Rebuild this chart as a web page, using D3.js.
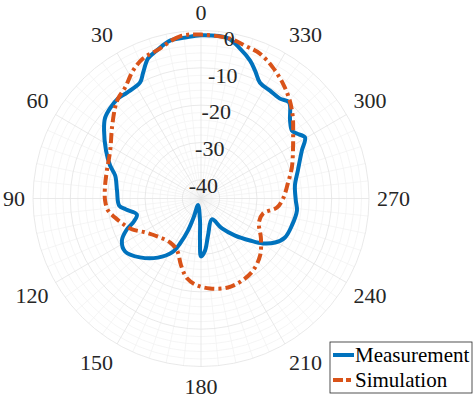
<!DOCTYPE html>
<html>
<head>
<meta charset="utf-8">
<script src="https://cdn.jsdelivr.net/npm/d3@7"></script>
<style>
  body { margin: 0; background: #fff; }
  svg { display: block; font-family: "Liberation Serif", "Times New Roman", serif; }
</style>
</head>
<body>
<svg id="chart" width="474" height="399"></svg>
<script>
// angles in degrees, counter-clockwise from the top; values in dB
const measAngle = [0, 5.7, 11.1, 16.6, 20.7, 24.7, 27.7, 34.9, 39.7, 45.3, 50.2, 55.0, 63.2, 70.1, 75.0, 84.6,
  94.9, 98.3, 104.0, 108.9, 113.1, 118.0, 124.9, 134.0, 143.9, 151.8, 155.0, 157.9, 158.7, 155.2,
  177.4, 178.6, 180, 184.4, 190.7, 207.6, 215, 222.6, 229.4, 234.0, 239.3, 245.1, 253.5, 262.9,
  268.8, 277.9, 286.1, 295.4, 300.4, 304.1, 306.8, 311.2, 317.5, 321.7, 327.4, 333.0, 337.1,
  340.4, 345.4, 350.4];
const measDb = [-1.3, -1.7, -1.9, -3.6, -4.9, -7.9, -9.9, -10.4, -10.2, -10.7, -11.5, -13.3, -16.5, -19.1, -21.2, -22.4,
  -23.0, -24.7, -27.3, -26.0, -23.2, -21.0, -20.2, -22.3, -25.4, -28.6, -31.7, -35.8, -39.8, -43.1,
  -39.1, -33.8, -29.5, -31.0, -34.9, -38.7, -35.2, -31.5, -27.7, -24.5, -21.9, -20.2, -19.6, -19.1,
  -19.6, -19.6, -18.0, -15.1, -12.7, -14.0, -14.6, -13.3, -10.1, -10.9, -10.7, -10.2, -7.8,
  -5.8, -3.5, -1.5];

const simAngle = [0, 7.4, 16.6, 22.5, 28.0, 34.4, 39.7, 43.4, 51.4, 62.2, 73.4, 83.5, 91.2, 97.4, 102.5,
  108.7, 114.2, 121.3, 131.5, 144.8, 155.2, 163.4, 170.1, 177.4, 185.7, 196.9, 206.6, 215.8, 226.0,
  236.3, 247.5, 256.4, 263.2, 270, 279.8, 288.8, 297.6, 305.2, 311.4, 317.8, 324.5, 331.2, 337.9,
  343.2, 349.7];
const simDb = [-1.1, -1.2, -3.6, -4.4, -6.2, -9.0, -10.2, -11.5, -14.5, -17.5, -18.7, -19.1, -19.3, -19.9, -21.4,
  -23.2, -24.8, -27.5, -29.6, -30.6, -29.7, -26.3, -23.3, -21.7, -20.8, -20.1, -20.4, -21.2, -23.0,
  -25.7, -28.2, -27.9, -24.5, -23.0, -21.4, -19.3, -17.2, -14.8, -12.2, -9.6, -7.2, -5.0, -3.1,
  -2.5, -1.5];

const thetaTicks = [0, 30, 60, 90, 120, 150, 180, 210, 240, 270, 300, 330];
const rTicks = [-40, -30, -20, -10, 0];
const seriesNames = ["Measurement", "Simulation"];

const cx = 201, cy = 198.5, R = 168;
const svg = d3.select("#chart");

const r = d3.scaleLinear().domain([-45, 0]).range([0, R]);
const toRad = a => -a * Math.PI / 180; // CCW from top -> d3 clockwise radians

const g = svg.append("g").attr("transform", `translate(${cx},${cy})`);

// grid: minor first, then major
const minorR = d3.range(-44, 0.1, 2).filter(v => !rTicks.includes(v));
const minorT = d3.range(0, 360, 6).filter(a => a % 30 !== 0);

g.append("g").selectAll("circle").data(minorR).join("circle")
  .attr("r", d => r(d)).attr("fill", "none")
  .attr("stroke", "#f0f0f0").attr("stroke-width", 0.7);
g.append("g").selectAll("line").data(minorT).join("line")
  .attr("x2", d => -R * Math.sin(d * Math.PI / 180))
  .attr("y2", d => -R * Math.cos(d * Math.PI / 180))
  .attr("stroke", "#f0f0f0").attr("stroke-width", 0.7);

g.append("g").selectAll("circle").data(rTicks).join("circle")
  .attr("r", d => r(d)).attr("fill", "none")
  .attr("stroke", "#e3e3e3").attr("stroke-width", 0.8);
g.append("g").selectAll("line").data(thetaTicks).join("line")
  .attr("x2", d => -R * Math.sin(d * Math.PI / 180))
  .attr("y2", d => -R * Math.cos(d * Math.PI / 180))
  .attr("stroke", "#e3e3e3").attr("stroke-width", 0.8);

// curves
const line = (angles, vals) => d3.lineRadial()
  .angle(i => toRad(angles[i]))
  .radius(i => r(vals[i]))
  .curve(d3.curveCatmullRomClosed.alpha(0.5))(d3.range(angles.length));

g.append("path").attr("d", line(measAngle, measDb))
  .attr("fill", "none").attr("stroke", "#0072BD").attr("stroke-width", 4)
  .attr("stroke-linejoin", "round");
g.append("path").attr("d", line(simAngle, simDb))
  .attr("fill", "none").attr("stroke", "#D95319").attr("stroke-width", 4)
  .attr("stroke-dasharray", "10,4,3,4");

// theta tick labels
const fs = 22;
thetaTicks.forEach(a => {
  const ux = -Math.sin(a * Math.PI / 180), uy = -Math.cos(a * Math.PI / 180);
  const w = String(a).length * fs * 0.5;
  const sx = Math.abs(ux) > 0.01 ? Math.sign(ux) : 0;
  const sy = Math.abs(uy) > 0.01 ? Math.sign(uy) : 0;
  // keep the text box inside the page (baseline at least one ascent from the top)
  const base = Math.max(uy * 181 + sy * 7 + 0.34 * fs, 20 - cy);
  g.append("text")
    .attr("x", ux * 176 + sx * w / 2)
    .attr("y", base)
    .attr("text-anchor", "middle")
    .attr("font-size", fs).attr("fill", "#262626")
    .text(a);
});

// r tick labels along 10 deg clockwise from top
const la = 10 * Math.PI / 180;
rTicks.forEach(v => {
  const d = r(v) - 5.5;
  g.append("text")
    .attr("x", d * Math.sin(la))
    .attr("y", -d * Math.cos(la))
    .attr("dy", "0.34em")
    .attr("text-anchor", "middle")
    .attr("font-size", fs).attr("fill", "#262626")
    .text(v);
});

// legend
const lg = svg.append("g").attr("transform", "translate(330,342)");
lg.append("rect").attr("width", 142).attr("height", 51)
  .attr("fill", "#fff").attr("stroke", "#262626").attr("stroke-width", 0.8);
const colors = ["#0072BD", "#D95319"];
seriesNames.forEach((name, i) => {
  const y = 13 + i * 25;
  lg.append("line").attr("x1", 3).attr("x2", 24).attr("y1", y).attr("y2", y)
    .attr("stroke", colors[i]).attr("stroke-width", 4)
    .attr("stroke-dasharray", i ? "10,3,5" : null);
  lg.append("text").attr("x", 25).attr("y", y).attr("dy", "0.34em")
    .attr("font-size", 21).attr("fill", "#000").text(name);
});
</script>
</body>
</html>
